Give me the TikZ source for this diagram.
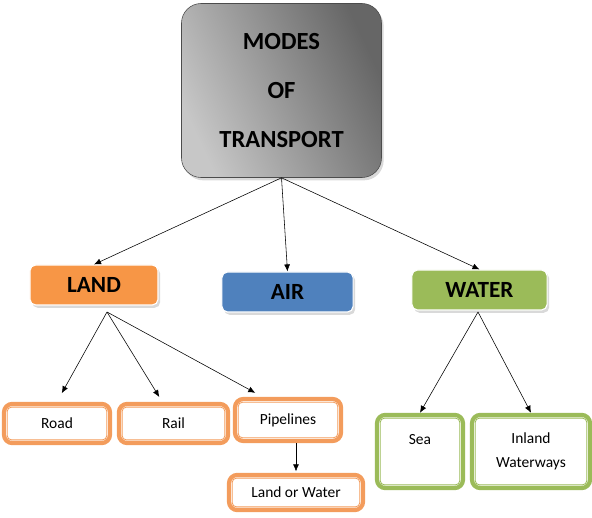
\documentclass[tikz,border=0pt]{standalone}
\usepackage{fontspec}
\setmainfont{Carlito}
\usepackage{tikz}
\usetikzlibrary{calc,shadows,arrows.meta}

\definecolor{landorange}{HTML}{F79646}
\definecolor{airblue}{HTML}{4F81BD}
\definecolor{watergreen}{HTML}{9BBB59}
\definecolor{pipeorange}{HTML}{F39C5C}

\begin{document}
\begin{tikzpicture}[x=0.025cm, y=-0.025cm, >={Latex[length=5pt,width=4.2pt]},
		topbox/.style={rounded corners=4pt, draw=white, line width=0.8pt,
			drop shadow={shadow xshift=1.5pt, shadow yshift=-2pt, opacity=0.3},
			font=\fontsize{16.5}{20}\selectfont\bfseries, text=black},
		subbox/.style={rounded corners=6pt, draw=#1, line width=3pt, fill=white,
			font=\fontsize{11}{17}\selectfont, text=black}]
					\useasboundingbox (0, 0) rectangle (592, 518);

					% top of the tree
					\node[rounded corners=14pt, draw=black!70, left color=black!22, right color=black!60, shading angle=115,
						drop shadow={shadow xshift=1.5pt, shadow yshift=-2pt, opacity=0.3},
						minimum width=5.0cm, minimum height=4.35cm, align=center,
						font=\fontsize{17.5}{21}\selectfont\bfseries, text=black] at (281.5, 90.5) (main) {MODES\\[14pt]OF\\[14pt]TRANSPORT};

					% second row
					\node[topbox, fill=landorange, minimum width=3.2cm, minimum height=1.0cm] at (94, 285) (land) {LAND};
					\node[topbox, fill=airblue, minimum width=3.28cm, minimum height=1.0cm] at (287.5, 292) (air) {AIR};
					\node[topbox, fill=watergreen, minimum width=3.38cm, minimum height=1.0cm] at (479.5, 290) (water) {WATER};

					\draw [->] (main.south) -- (land.north);
					\draw [->] (main.south) -- (air.north);
					\draw [->] (main.south) -- (water.north);

					% land
					\node[subbox=pipeorange, minimum width=2.65cm, minimum height=0.98cm] at (57, 423.5) (road) {Road};
					\node[subbox=pipeorange, minimum width=2.73cm, minimum height=0.98cm] at (173.5, 423.5) (rail) {Rail};
					\node[subbox=pipeorange, minimum width=2.65cm, minimum height=1.05cm] at (288, 420) (pipes) {Pipelines};
					\node[subbox=pipeorange, minimum width=3.35cm, minimum height=0.88cm] at (296, 492.5) (landwater) {Land or Water};

					\coordinate (landfork) at (107, 312);
					\draw [->, shorten >=7pt] (landfork) -- (road.north);
					\draw [->, shorten >=4pt] (landfork) -- ([xshift=-8pt]rail.north);
					\draw [->, shorten >=6pt] (landfork) -- ([xshift=-18pt]pipes.north);
					\draw [->, shorten >=1pt] (pipes.south -| landwater.north) -- (landwater.north);

					% water
					\node[subbox=watergreen, minimum width=2.15cm, minimum height=1.83cm, align=center] at (420, 451.5) (sea) {Sea\\~};
					\node[subbox=watergreen, minimum width=2.95cm, minimum height=1.83cm, align=center] at (531, 451.5) (inland) {Inland\\Waterways};

					\coordinate (waterfork) at (478, 312);
					\draw [->] (waterfork) -- (sea.north);
					\draw [->] (waterfork) -- (inland.north);

					% inner lines of the framed boxes
					\foreach \n/\c in {road/pipeorange, rail/pipeorange, pipes/pipeorange, landwater/pipeorange, sea/watergreen, inland/watergreen}
						\draw[\c, line width=0.6pt, rounded corners=3pt] ([shift={(3.8pt,3.8pt)}]\n.south west) rectangle ([shift={(-3.8pt,-3.8pt)}]\n.north east);
				\end{tikzpicture}
\end{document}
